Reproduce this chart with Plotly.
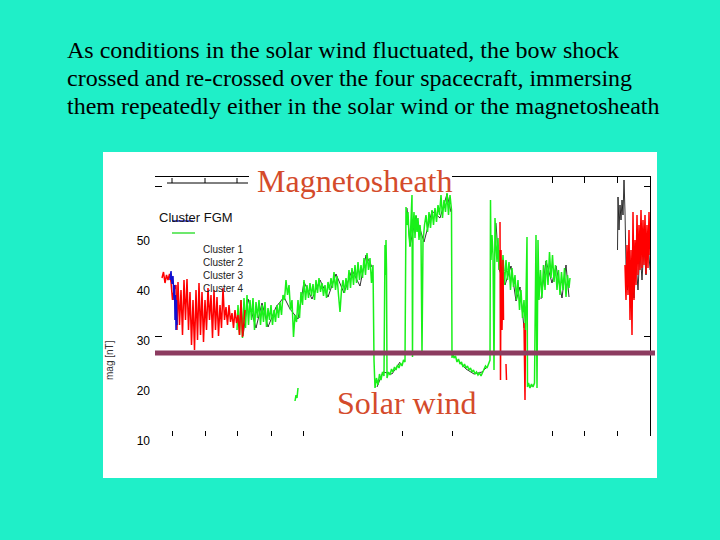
import plotly.graph_objects as go

# ---------------- data (time index, |B| in nT) ----------------
c3_t = [82, 83, 84.5, 86, 87.5, 89, 90.5, 92, 93.5, 95, 96.5, 98, 99.5, 101, 102.5, 104, 105.5, 107, 108.5, 110,
        111.5, 113, 114.5, 116, 117.5, 119, 120.5, 122, 123.5, 125, 126.5, 128, 129.5, 131, 132.5, 134, 135.5, 137,
        138.5, 140, 141.5, 143, 144.5, 146, 147.5, 149, 150.5, 152, 153.5, 155, 156.5, 158, 159.5, 161, 162.5, 164,
        165.5, 167, 168.5, 170, 171.5, 173, 174.5, 176, 177.5, 179, 180.5, 182, 183.5, 185, 186.5, 188, 189.5, 191,
        192.5, 194, 195.5, 197, 198.5, 200, 201.5, 203, 204.5, 206, 207.5, 209, 210.5, 212, 213.5, 215, 216.5, 218,
        219, 220, 221.5, 223, 224.5, 226, 227.5, 229, 230, 230.5, 231, 231.5, 232, 233.5, 235, 236.5, 238, 239.5,
        241, 242.5, 244, 245.5, 247, 248.5, 250, 250.5, 251, 252, 253, 254, 255, 256, 257, 257.5, 258, 259, 260,
        261, 262, 263, 264, 265, 266, 267, 268, 269.5, 271, 272.5, 274, 275.5, 277, 278.5, 280, 281.5, 283, 284.5,
        286, 287.5, 289, 290.5, 292, 293.5, 295, 296.5, 297, 297.5, 299, 300.5, 302, 303.5, 305, 306.5, 308, 309.5,
        311, 312.5, 314, 315.5, 317, 318.5, 320, 321.5, 323, 324.5, 326, 327.5, 329, 330.5, 332, 333.5, 335, 335.5,
        336, 337, 338, 339, 340, 341, 342, 343, 344, 345, 346.5, 348, 349.5, 351, 352.5, 354, 355.5, 357, 358.5,
        360, 361.5, 363, 364.5, 366, 367.5, 369, 370.5, 372, 372.5, 373.5, 375, 376.5, 378, 379.5, 381, 382, 383,
        384, 385.5, 387, 388.5, 390, 391.5, 393, 394.5, 396, 397.5, 399, 400.5, 402, 403.5, 405, 406.5, 408, 409.5,
        411, 412.5, 414, 415,
        None, 140, 141, 142, 143]
c3_b = [31.2, 36.2, 30.2, 37.2, 29.6, 37.6, 31.6, 38.2, 32.2, 37.2, 33.2, 37.6, 31.2, 36.8, 33.6, 37.2, 32.2, 36.2,
        32.8, 36.8, 31.8, 35.6, 33.2, 36.2, 32.2, 35.2, 32.8, 36.2, 33.6, 36.8, 34.2, 38.2, 37.2, 41.2, 38.2, 40.2,
        35.2, 37.2, 29.8, 34.2, 32.8, 37.2, 33.6, 38.8, 36.2, 41.2, 37.2, 40.2, 37.6, 40.6, 38.0, 40.4, 37.2, 41.2,
        38.6, 41.6, 38.8, 40.6, 38.0, 40.2, 37.6, 40.8, 39.2, 41.6, 39.6, 42.8, 39.2, 42.0, 38.2, 34.8, 39.2, 41.2,
        38.6, 41.6, 39.2, 43.2, 39.6, 43.6, 40.2, 44.2, 40.6, 44.8, 41.2, 44.2, 41.6, 45.6, 42.2, 46.6, 43.2, 45.6,
        40.6, 44.2, 25.2, 19.6, 21.6, 20.2, 22.4, 21.2, 22.8, 22.0, 48.2, 42.2, 49.2, 43.2, 21.6, 22.8, 22.2, 23.4,
        22.8, 23.8, 23.2, 24.2, 23.6, 24.6, 24.0, 25.2, 24.8, 55.2, 55.8, 52.2, 54.8, 50.2, 47.8, 53.2, 58.2, 25.8,
        51.2, 54.8, 49.6, 54.2, 50.8, 53.6, 49.2, 52.2, 49.8, 26.2, 48.8, 52.2, 54.2, 50.8, 54.8, 51.6, 55.2, 52.2,
        55.6, 52.8, 56.2, 54.2, 58.2, 53.6, 57.2, 54.8, 58.6, 54.2, 58.2, 55.2, 25.6, 26.8, 25.6, 26.0, 24.8, 25.4,
        24.4, 24.8, 23.8, 24.4, 23.6, 24.0, 23.2, 23.6, 22.8, 23.2, 22.4, 22.8, 22.2, 22.6, 22.0, 22.8, 23.2, 24.0,
        23.6, 24.6, 25.2, 57.2, 45.2, 50.2, 46.2, 23.2, 53.6, 48.2, 44.8, 49.6, 43.2, 47.2, 40.6, 46.2, 40.2, 45.2,
        41.2, 44.8, 39.2, 43.6, 39.8, 42.2, 37.2, 41.2, 35.2, 39.2, 33.6, 37.2, 31.2, 49.8, 19.8, 20.6, 19.6, 20.4,
        19.8, 20.6, 50.2, 19.6, 49.2, 37.2, 43.2, 37.6, 44.2, 39.2, 45.2, 40.2, 46.8, 41.6, 46.2, 40.8, 44.2, 39.2,
        43.2, 38.2, 42.8, 39.2, 43.6, 37.8, 42.2, 39.6, 41.6,
        None, 17.0, 18.2, 17.6, 19.6]

c2_t = [7, 8.5, 10, 11.5, 13, 14.5, 16, 17.5, 19, 21, 22, 23, 24.5, 26, 27.5, 29, 30.5, 32, 33.5, 35, 36.5, 38,
        39.5, 41, 42.5, 44, 45.5, 47, 48.5, 50, 51.5, 53, 54.5, 56, 57.5, 59, 60.5, 62, 63.5, 65, 66.5, 68, 69.5,
        71, 72.5, 74, 75.5, 77, 78.5, 80, 81.5, 83, 84.5, 86, 87.5, 89, 90,
        None, 345, 345.5, 346, 347, 348, 348.5,
        None, 351, 351.5,
        None, 369, 370, 370.5,
        None, 470, 471, 472, 473, 474, 475, 476, 477, 478, 479, 480, 481, 482, 483, 484, 485, 486, 487, 488, 489,
        490, 491, 492, 493, 494, 495]
c2_b = [41.6, 42.8, 40.6, 42.2, 41.2, 42.4, 40.8, 37.2, 39.2, 40.2, 31.2, 40.8, 32.2, 39.2, 30.2, 41.2, 33.2, 41.4,
        31.2, 38.8, 28.2, 37.2, 27.2, 39.2, 29.2, 40.6, 30.2, 38.8, 28.8, 37.2, 31.2, 39.6, 33.2, 38.2, 29.6, 39.2,
        31.2, 37.8, 30.0, 36.2, 31.6, 39.6, 33.2, 35.8, 32.2, 36.2, 32.8, 34.6, 31.6, 35.2, 32.6, 34.2, 30.2, 37.2,
        29.8, 33.6, 35.2,
        None, 52.8, 21.2, 47.2, 31.2, 45.2, 33.2,
        None, 24.4, 21.2,
        None, 32.6, 17.2, 31.2,
        None, 44.2, 37.2, 48.2, 38.2, 51.2, 33.2, 47.2, 30.2, 54.8, 37.2, 49.2, 40.2, 54.2, 42.2, 52.2, 43.2, 55.2,
        43.6, 53.2, 44.2, 54.2, 42.4, 52.2, 43.6, 54.8, 46.2]

c4_t = [15, 16, 17, 18, 19, 19.5, 20, 20.5, 21, 21.5, 22]
c4_b = [41.2, 43.0, 40.4, 42.0, 37.2, 40.2, 33.2, 38.2, 31.2, 37.2, 32.2]

c1_t = [88, 93, 101, 107, 113, 121, 129, 135, 143, 149, 157, 165, 173, 181, 189, 197, 205, 211, 217,
        None, 222, 228, 237, 245,
        None, 252, 255, 261, 269, 277, 285, 292, 296,
        None, 303, 311, 319, 327, 333,
        None, 341, 344, 350, 356, 361, 365, 369,
        None, 374, 379,
        None, 386, 391, 397, 401, 407, 411, 414,
        None, 462.5, 463, 464, 465, 466, 467, 468, 469, 470, 471, 472.5, 474, 475.5, 477, 479, 481, 483, 485, 487,
        489, 491, 493, 495]
c1_b = [30.0, 37.4, 31.6, 36.6, 31.8, 35.8, 37.8, 35.4, 33.4, 40.8, 37.4, 41.2, 37.8, 42.4, 38.6, 43.2, 40.0, 46.2,
        43.8,
        None, 19.8, 22.8, 22.4, 24.8,
        None, 55.6, 48.0, 54.0, 48.8, 55.0, 53.6, 58.4, 54.8,
        None, 25.2, 23.4, 22.4, 22.8, 24.0,
        None, 52.6, 43.4, 40.2, 44.0, 37.0, 39.8, 31.6,
        None, 19.8, 20.2,
        None, 37.4, 45.0, 40.6, 44.0, 37.6, 44.2, 37.8,
        None, 47.2, 57.8, 51.2, 56.2, 53.2, 57.2, 54.2, 61.2, 54.8, 44.4, 39.2, 44.0, 36.8, 41.2, 37.6, 45.2, 39.2,
        47.2, 41.2, 48.2, 42.2, 49.2, 43.2]

boundary_level = 26.6
y_tick_vals = [10, 20, 30, 40, 50]
y_major_ticks = [30, 60]
x_ticks_bottom = [17, 50, 82, 116, 148, 247, 297, 397, 429, 462]
x_ticks_top = [397, 429, 462]
series_names = ["Cluster 1", "Cluster 2", "Cluster 3", "Cluster 4"]

title_lines = ["As conditions in the solar wind fluctuated, the bow shock",
               "crossed and re-crossed over the four spacecraft, immersing",
               "them repeatedly either in the solar wind or the magnetosheath"]

# ---------------- layout helpers ----------------
W, H = 720, 540
def px(x):
    return x / W
def py(y):
    return 1 - y / H

X_RANGE = [0, 495]
Y_RANGE = [10, 61.8]
BG = "#1FEFC8"
SERIF = "Liberation Serif, Times New Roman, serif"
SANS = "Liberation Sans, Arial, sans-serif"
LABEL_RED = "#D44B2B"

fig = go.Figure()
fig.add_trace(go.Scatter(x=c1_t, y=c1_b, mode="lines", name=series_names[0],
                         line=dict(color="#000000", width=0.8)))
fig.add_trace(go.Scatter(x=c3_t, y=c3_b, mode="lines", name=series_names[2],
                         line=dict(color="#19F019", width=1.5)))
fig.add_trace(go.Scatter(x=c2_t, y=c2_b, mode="lines", name=series_names[1],
                         line=dict(color="#FF0000", width=1.5)))
fig.add_trace(go.Scatter(x=c4_t, y=c4_b, mode="lines", name=series_names[3],
                         line=dict(color="#1010D0", width=1.5)))
# empty traces so the overlay axes are drawn
fig.add_trace(go.Scatter(x=[], y=[], xaxis="x2", yaxis="y", showlegend=False))
fig.add_trace(go.Scatter(x=[], y=[], xaxis="x", yaxis="y2", showlegend=False))
fig.add_trace(go.Scatter(x=[], y=[], xaxis="x", yaxis="y3", showlegend=False))

xdom = [px(155), px(650)]
ydom = [py(436), py(177)]

fig.update_layout(
    width=W, height=H, margin=dict(l=0, r=0, t=0, b=0, pad=0, autoexpand=False),
    paper_bgcolor=BG, plot_bgcolor="rgba(0,0,0,0)",
    showlegend=False, hovermode=False,
    xaxis=dict(domain=xdom, range=X_RANGE, showgrid=False, zeroline=False, showline=False, automargin=False,
               ticks="inside", ticklen=5, tickcolor="#000", tickwidth=1,
               tickvals=x_ticks_bottom, showticklabels=False, anchor="y"),
    xaxis2=dict(domain=xdom, range=X_RANGE, overlaying="x", side="top", anchor="y", automargin=False,
                showgrid=False, zeroline=False, showline=True, linecolor="#000", linewidth=1,
                ticks="inside", ticklen=6, tickcolor="#000", tickvals=x_ticks_top,
                showticklabels=False),
    yaxis=dict(domain=ydom, range=Y_RANGE, showgrid=False, zeroline=False, showline=False, automargin=False,
               ticks="", tickvals=y_tick_vals, ticklabelshift=5, ticklabelstandoff=4,
               tickfont=dict(family=SANS, size=12, color="#000"), anchor="x"),
    yaxis2=dict(domain=ydom, range=Y_RANGE, overlaying="y", side="right", anchor="x", automargin=False,
                showgrid=False, zeroline=False, showline=True, linecolor="#000", linewidth=1,
                ticks="inside", ticklen=6, tickcolor="#000", tickvals=y_major_ticks,
                showticklabels=False),
    yaxis3=dict(domain=ydom, range=Y_RANGE, overlaying="y", side="left", anchor="x", automargin=False,
                showgrid=False, zeroline=False, showline=False,
                ticks="inside", ticklen=7, tickcolor="#000", tickvals=y_major_ticks,
                showticklabels=False),
)

shapes = [
    # white embedded-picture panel
    dict(type="rect", xref="paper", yref="paper", x0=px(103), x1=px(657), y0=py(478), y1=py(152),
         fillcolor="white", line=dict(width=0), layer="below"),
    # boundary line
    dict(type="line", xref="paper", yref="y", x0=px(155), x1=px(655), y0=boundary_level, y1=boundary_level,
         line=dict(color="#8C3B60", width=5), layer="above"),
    # white patch behind the "Magnetosheath" label (hides top frame)
    dict(type="rect", xref="paper", yref="paper", x0=px(249), x1=px(452), y0=py(185), y1=py(170),
         fillcolor="white", line=dict(width=0), layer="above"),
    # bottom frame of the panel above
    dict(type="line", xref="paper", yref="paper", x0=px(167), x1=px(248), y0=py(183), y1=py(183),
         line=dict(color="#000", width=1), layer="above"),
    # legend samples
    dict(type="line", xref="paper", yref="paper", x0=px(172), x1=px(193), y0=py(221), y1=py(221),
         line=dict(color="#2828C0", width=1.5), layer="above"),
    dict(type="line", xref="paper", yref="paper", x0=px(172), x1=px(195), y0=py(233), y1=py(233),
         line=dict(color="#3CE03C", width=1.5), layer="above"),
]
for tx in [172, 205, 237]:
    shapes.append(dict(type="line", xref="paper", yref="paper", x0=px(tx), x1=px(tx), y0=py(183), y1=py(178),
                       line=dict(color="#000", width=1), layer="above"))
fig.update_layout(shapes=shapes)

annotations = []
for line_text, yc in zip(title_lines, [50, 78, 106]):
    annotations.append(dict(text=line_text, x=px(65), y=py(yc), xref="paper", yref="paper",
                            xanchor="left", yanchor="middle", align="left", showarrow=False,
                            font=dict(family=SERIF, size=24, color="#000")))
annotations += [
    dict(text="Magnetosheath", x=px(355), y=py(181), xref="paper", yref="paper", xanchor="center",
         yanchor="middle", showarrow=False, font=dict(family=SERIF, size=32, color=LABEL_RED)),
    dict(text="Solar wind", x=px(407), y=py(403), xref="paper", yref="paper", xanchor="center",
         yanchor="middle", showarrow=False, font=dict(family=SERIF, size=32, color=LABEL_RED)),
    dict(text="Cluster FGM", x=px(157), y=py(217), xref="paper", yref="paper", xanchor="left",
         yanchor="middle", showarrow=False, font=dict(family=SANS, size=13, color="#111")),
    dict(text="<br>".join(series_names), x=px(201), y=py(268.5), xref="paper", yref="paper",
         xanchor="left", yanchor="middle", align="left", showarrow=False,
         font=dict(family=SANS, size=10, color="#222")),
    dict(text="mag [nT]", x=px(109), y=py(360), xref="paper", yref="paper", xanchor="center",
         yanchor="middle", textangle=-90, showarrow=False, font=dict(family=SANS, size=10, color="#333")),
]
fig.update_layout(annotations=annotations)

page_fix = "document.body.style.margin='0px';document.body.style.overflow='hidden';"
fig.write_html("out.html", config={"displayModeBar": False}, post_script=page_fix)
